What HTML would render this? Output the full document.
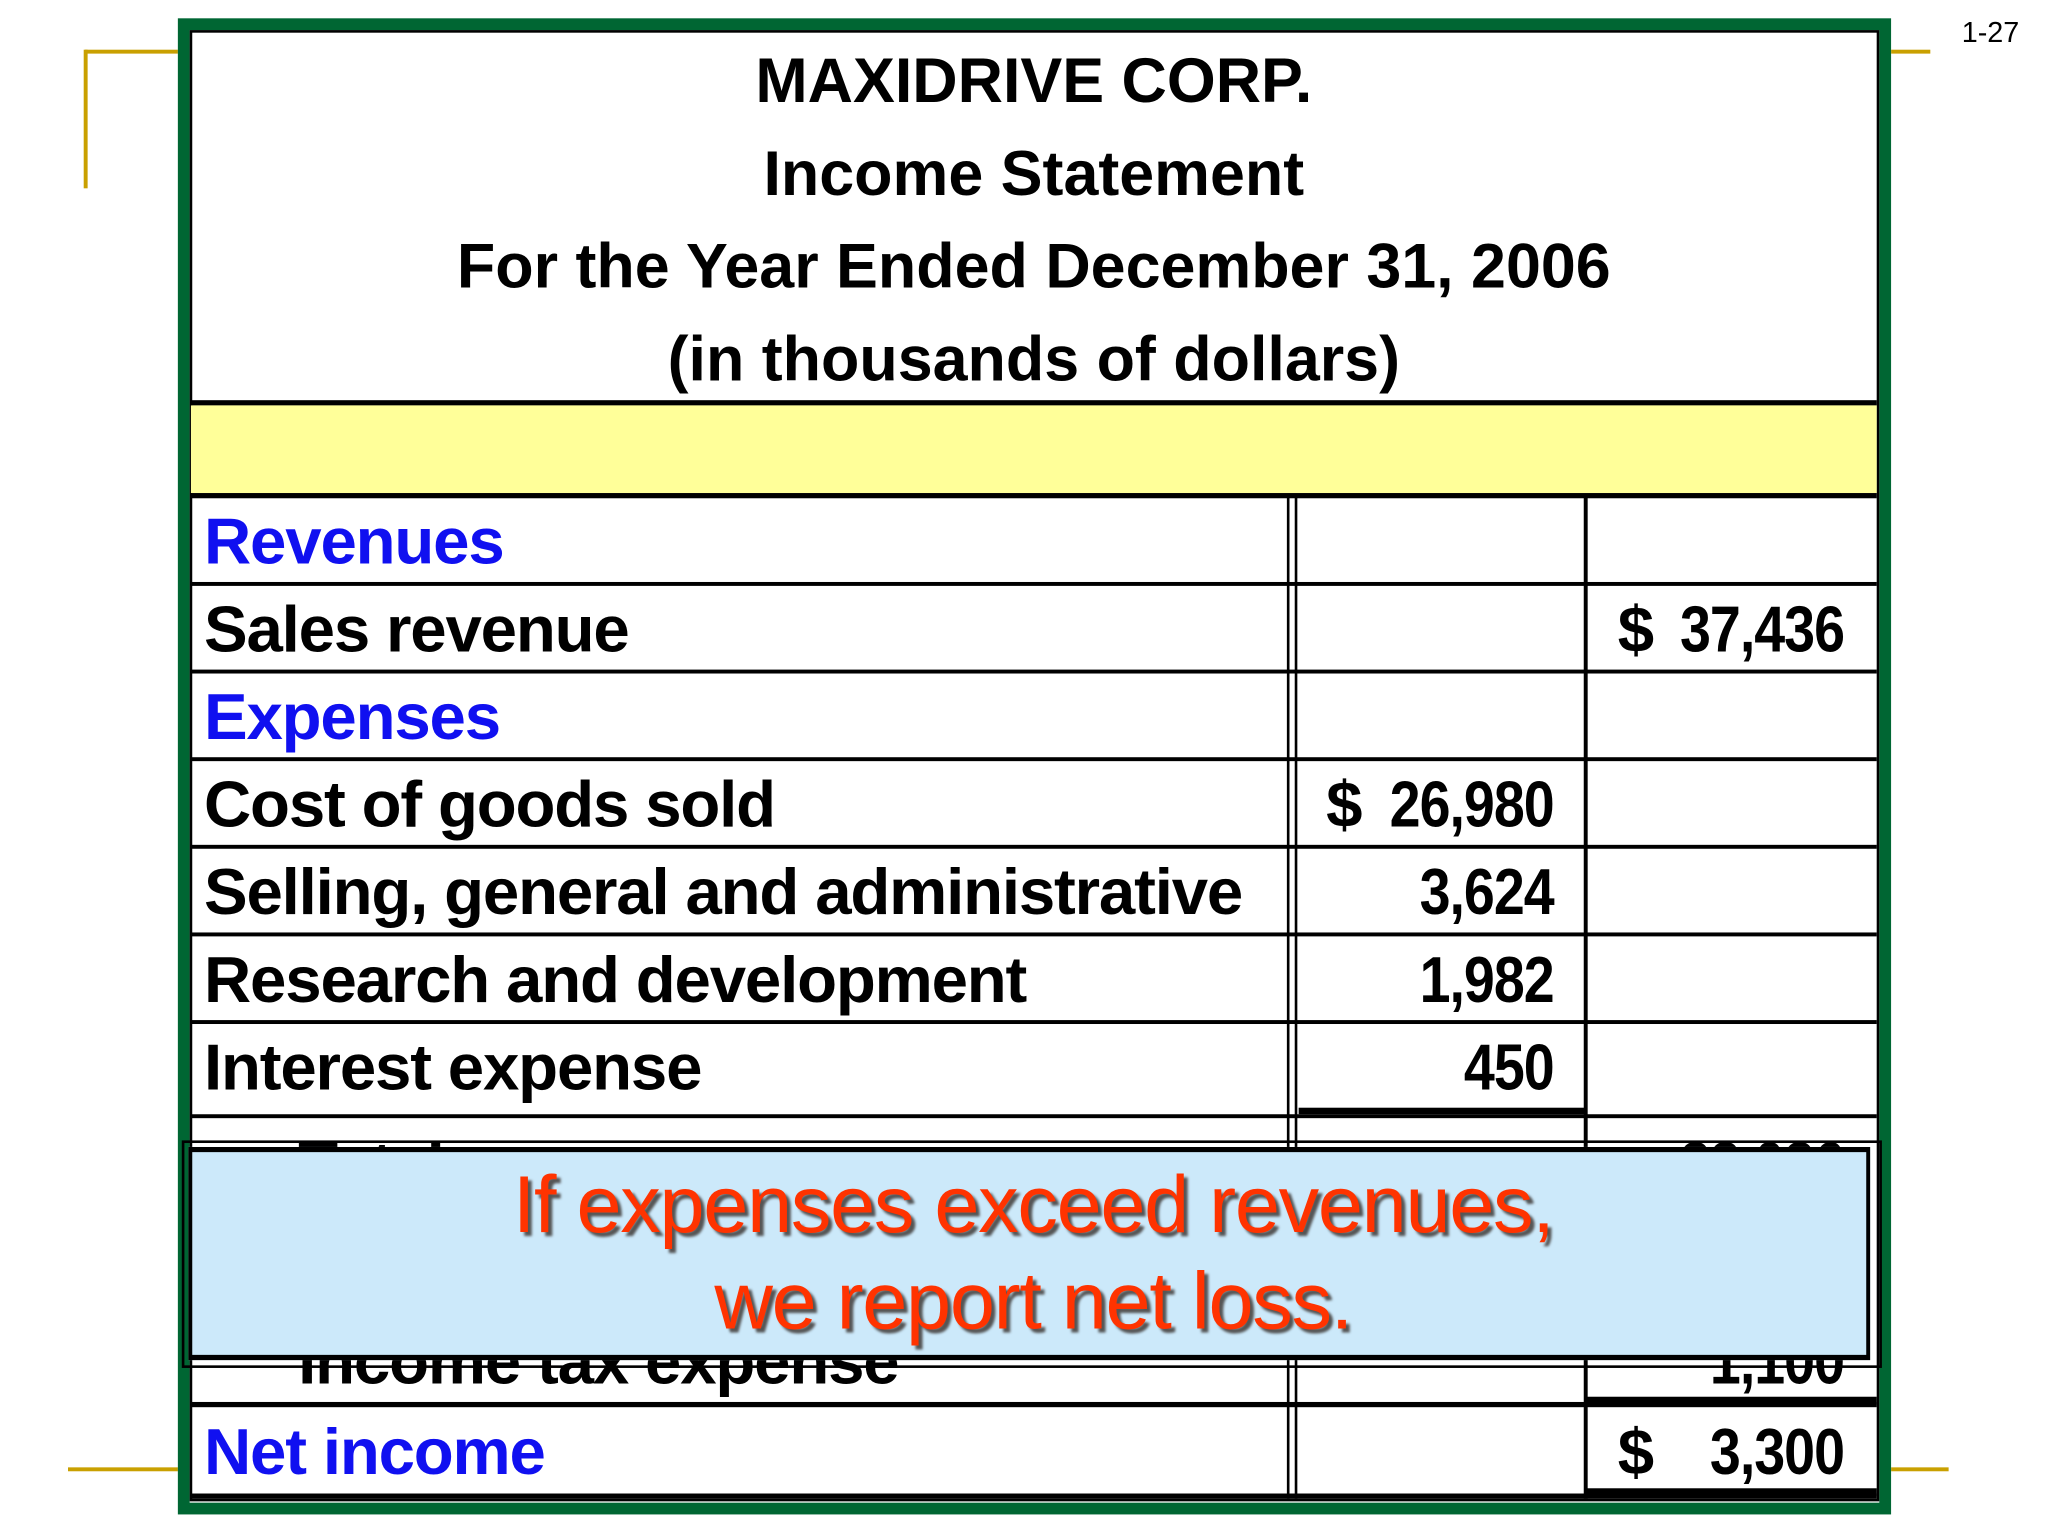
<!DOCTYPE html>
<html><head><meta charset="utf-8"><style>
html,body{margin:0;padding:0;background:#fff;width:2048px;height:1536px;overflow:hidden}
#stage{position:absolute;left:0;top:0;width:1566px;height:1175px;transform:scale(1.3078);transform-origin:0 0;font-family:"Liberation Sans",sans-serif}
.a{position:absolute}
.gold{position:absolute;background:#c9a000}
.hl{position:absolute;background:#000;height:3px}
.vl{position:absolute;background:#000;width:3px}
.t{position:absolute;font-weight:bold;font-size:50px;line-height:67px;white-space:nowrap;letter-spacing:-0.9px}
.blue{color:#1010f0}
.num{text-align:right;transform:scaleX(0.85);transform-origin:right center}
.title{position:absolute;left:146px;width:1289px;text-align:center;font-weight:bold;font-size:48px;white-space:nowrap}
.msg{position:absolute;left:140px;width:1300px;text-align:center;color:#ff3300;font-size:62px;text-shadow:3px 3px 2px #555;white-space:nowrap;letter-spacing:-1px}
</style></head><body>
<div id="stage">
  <div class="a" style="left:1500px;top:12px;font-size:22px">1-27</div>
  <div class="gold" style="left:65px;top:38px;width:72px;height:3px"></div>
  <div class="gold" style="left:64px;top:38px;width:3px;height:106px"></div>
  <div class="gold" style="left:1446px;top:38px;width:30px;height:3px"></div>
  <div class="gold" style="left:52px;top:1122px;width:85px;height:3px"></div>
  <div class="gold" style="left:1446px;top:1122px;width:44px;height:3px"></div>

  <div class="a" style="left:136px;top:14px;width:1292px;height:1126px;border:9px solid #006633;background:#fff"></div>
  <div class="a" style="left:145px;top:23px;width:1288px;height:1121px;border:2px solid #000"></div>

  <div class="title" style="top:35px">MAXIDRIVE CORP.</div>
  <div class="title" style="top:106px">Income Statement</div>
  <div class="title" style="top:177px">For the Year Ended December 31, 2006</div>
  <div class="title" style="top:248px">(in thousands of dollars)</div>

  <div class="hl" style="left:146px;width:1289px;top:306px;height:4px"></div>
  <div class="a" style="left:146px;top:310px;width:1289px;height:67px;background:#ffff99"></div>
  <div class="hl" style="left:146px;width:1289px;top:377px;height:4px"></div>

  <div class="hl" style="left:146px;width:1289px;top:445px"></div>
  <div class="hl" style="left:146px;width:1289px;top:512px"></div>
  <div class="hl" style="left:146px;width:1289px;top:579px"></div>
  <div class="hl" style="left:146px;width:1289px;top:646px"></div>
  <div class="hl" style="left:146px;width:1289px;top:713px"></div>
  <div class="hl" style="left:146px;width:1289px;top:780px"></div>
  <div class="hl" style="left:993px;width:219px;top:847px;height:5px"></div>
  <div class="hl" style="left:146px;width:1289px;top:852px"></div>
  <div class="hl" style="left:146px;width:1289px;top:1072px;height:4px"></div>
  <div class="hl" style="left:1213px;width:222px;top:1068px;height:6px"></div>
  <div class="hl" style="left:146px;width:1289px;top:1142px;height:4px"></div>
  <div class="hl" style="left:1213px;width:222px;top:1138px;height:6px"></div>
  <div class="vl" style="left:984px;top:380px;height:766px;width:2px"></div>
  <div class="vl" style="left:990px;top:380px;height:766px;width:2px"></div>
  <div class="vl" style="left:1211px;top:380px;height:766px"></div>

  <div class="t blue" style="left:156px;top:381px">Revenues</div>
  <div class="t" style="left:156px;top:448px">Sales revenue</div>
  <div class="t" style="left:1237px;top:448px">$</div>
  <div class="t num" style="left:1214px;width:196px;top:448px">37,436</div>
  <div class="t blue" style="left:156px;top:515px">Expenses</div>
  <div class="t" style="left:156px;top:582px">Cost of goods sold</div>
  <div class="t" style="left:1014px;top:582px">$</div>
  <div class="t num" style="left:993px;width:195px;top:582px">26,980</div>
  <div class="t" style="left:156px;top:649px">Selling, general and administrative</div>
  <div class="t num" style="left:993px;width:195px;top:649px">3,624</div>
  <div class="t" style="left:156px;top:716px">Research and development</div>
  <div class="t num" style="left:993px;width:195px;top:716px">1,982</div>
  <div class="t" style="left:156px;top:783px">Interest expense</div>
  <div class="t num" style="left:993px;width:195px;top:783px">450</div>
  <div class="t" style="left:228px;top:858px">Total expenses</div>
  <div class="t num" style="left:1214px;width:196px;top:858px">33,036</div>
  <div class="t" style="left:228px;top:1008px">Income tax expense</div>
  <div class="t num" style="left:1214px;width:196px;top:1008px">1,100</div>
  <div class="t blue" style="left:156px;top:1077px">Net income</div>
  <div class="t" style="left:1237px;top:1077px">$</div>
  <div class="t num" style="left:1214px;width:196px;top:1077px">3,300</div>

  <div class="a" style="left:139px;top:872px;width:1296px;height:170px;border:2px solid #000"></div>
  <div class="a" style="left:144px;top:877px;width:1286px;height:163px;background:#cce9fa;border-top:4px solid #000;border-bottom:4px solid #000;border-left:3px solid #000;border-right:3px solid #000;box-sizing:border-box"></div>
  <div class="msg" style="top:886px">If expenses exceed revenues,</div>
  <div class="msg" style="top:960px">we report net loss.</div>
</div>
</body></html>
